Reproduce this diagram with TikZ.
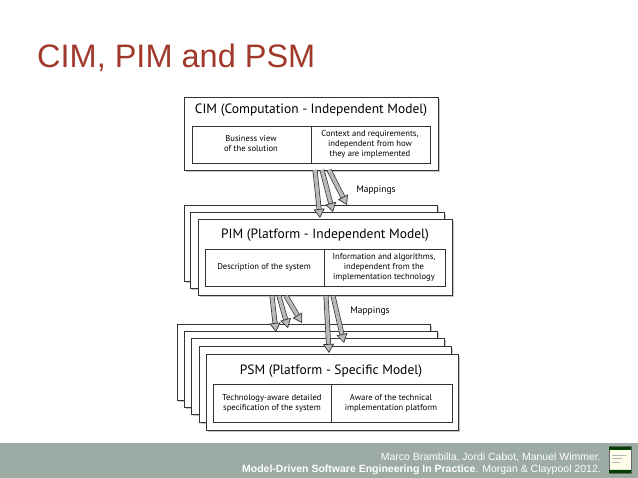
\documentclass[tikz,border=0pt]{standalone}
\usepackage{fontspec}
\setmainfont{Liberation Sans}
\newfontfamily\dia{PT Sans}
\usetikzlibrary{arrows.meta,shadows}
\definecolor{ttl}{HTML}{A0392A}
\definecolor{foot}{HTML}{9CABA4}
\begin{document}
\begin{tikzpicture}[x=1pt,y=-1pt,
 box/.style={draw=black!80,fill=white,line width=.9pt,drop shadow={shadow xshift=2pt,shadow yshift=-2pt,opacity=.45}},
 cell/.style={draw=black!80,line width=.8pt},
 ttxt/.style={font=\dia\fontsize{13.5}{15}\selectfont},
 ctxt/.style={font=\dia\fontsize{8.6}{10}\selectfont,align=center},
 fat/.style={draw=black!80,line width=.7pt,double=gray!55,double distance=3.6pt,-{Triangle[width=11pt,length=9pt,fill=gray!55,line width=.7pt]}},
 lbl/.style={font=\dia\fontsize{9.5}{11}\selectfont}]
\useasboundingbox (0,0) rectangle (638,478);
\node[font=\fontsize{32.5}{36}\selectfont,text=ttl,anchor=base west,inner sep=0pt] (title) at (37,68) {CIM, PIM and PSM};
% CIM
\path[box] (184,97) rectangle (438,170);
\node[ttxt] (cimt) at (311,110) {CIM (Computation - Independent Model)};
\draw[cell] (192,126) rectangle (430,163) (311,126) -- (311,163);
\node[ctxt] (c1) at (251,144) {Business view\\of the solution};
\node[ctxt] (c2) at (370,144) {Context and requirements,\\independent from how\\they are implemented};
% PIM
\path[box] (184,205) rectangle (437,281);
\path[box] (190,212) rectangle (444,288);
\path[box] (198,219) rectangle (452,295);
\node[ttxt] (pimt) at (325,235) {PIM (Platform - Independent Model)};
\draw[cell] (205,249) rectangle (445,286) (324,249) -- (324,286);
\node[ctxt] (p1) at (264,267) {Description of the system};
\node[ctxt] (p2) at (384,267) {Information and algorithms,\\independent from the\\implementation technology};
% PSM
\path[box] (177,324) rectangle (430,400);
\path[box] (184,331) rectangle (437,407);
\path[box] (191,338) rectangle (444,414);
\path[box] (199,346) rectangle (451,422);
\path[box] (206,354) rectangle (458,430);
\node[ttxt] (psmt) at (331,371) {PSM (Platform - Specific Model)};
\draw[cell] (213,384) rectangle (452,422) (331,384) -- (331,422);
\node[ctxt] (s1) at (272,403) {Technology-aware detailed\\specification of the  system};
\node[ctxt] (s2) at (391,403) {Aware of the technical\\implementation platform};
% arrows CIM->PIM
\coordinate (a1) at (315,170); \coordinate (b1) at (320,218);
\coordinate (a2) at (322,170); \coordinate (b2) at (333,212);
\coordinate (a3) at (329,170); \coordinate (b3) at (347,205);
\draw[fat] (a3) -- (b3); \draw[fat] (a2) -- (b2); \draw[fat] (a1) -- (b1);
\node[lbl] (m1) at (376,190) {Mappings};
% arrows PIM->PSM
\coordinate (d1) at (272,296); \coordinate (e1) at (276,332);
\coordinate (d2) at (279,296); \coordinate (e2) at (288,328);
\coordinate (d3) at (286,296); \coordinate (e3) at (302,323);
\coordinate (d4) at (326,296); \coordinate (e4) at (329,353);
\coordinate (d5) at (333,296); \coordinate (e5) at (344,343);
\draw[fat] (d3) -- (e3); \draw[fat] (d2) -- (e2); \draw[fat] (d1) -- (e1);
\draw[fat] (d5) -- (e5); \draw[fat] (d4) -- (e4);
\node[lbl] (m2) at (370,311) {Mappings};
% footer
\fill[foot] (0,443) rectangle (638,478);
\node[font=\fontsize{10.5}{12}\selectfont,text=white,anchor=base east,inner sep=0pt] (f1) at (601,461) {Marco Brambilla, Jordi Cabot, Manuel Wimmer.};
\node[font=\fontsize{10.5}{12}\selectfont,text=white,anchor=base east,inner sep=0pt] (f2) at (601,473) {\textbf{Model-Driven Software Engineering In Practice}. Morgan \& Claypool 2012.};
\node[draw=black!60,fill=white!92!yellow,minimum width=22pt,minimum height=27pt,inner sep=0pt] (book) at (620,460) {};
\fill[black!75!green] (609,447) rectangle (631,450) (609,470) rectangle (631,473);
\draw[gray!60,line width=.6pt] (612,455) -- (626,455) (612,458) -- (622,458) (612,462) -- (620,462);
\end{tikzpicture}
\end{document}
